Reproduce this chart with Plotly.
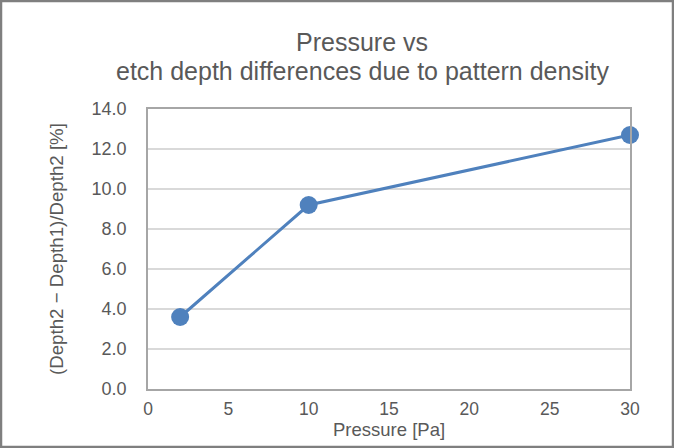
import plotly.graph_objects as go

pressure = [2, 10, 30]
depth_diff = [3.6, 9.2, 12.7]
y_ticks = [0, 2, 4, 6, 8, 10, 12, 14]
x_ticks = [0, 5, 10, 15, 20, 25, 30]
title_lines = ["Pressure vs", "etch depth differences due to pattern density"]
x_title = "Pressure [Pa]"
y_title = "(Depth2 − Depth1)/Depth2 [%]"

W, H = 674, 448
L, R, T, B = 148, 44, 109, 59
pw, ph = W - L - R, H - T - B

text_col = "#595959"
font = "Liberation Sans, Arial, sans-serif"

fig = go.Figure()
fig.add_trace(go.Scatter(
    x=pressure, y=depth_diff, mode="lines+markers",
    line=dict(color="#4F81BD", width=3),
    marker=dict(color="#4F81BD", size=18),
    cliponaxis=False, showlegend=False,
))

fig.update_layout(
    width=W, height=H,
    margin=dict(l=L, r=R, t=T, b=B, pad=0),
    paper_bgcolor="white", plot_bgcolor="white",
    font=dict(family=font, color=text_col, size=18),
    xaxis=dict(
        range=[0, 30], tickvals=x_ticks, showgrid=False, zeroline=False,
        showline=True, linecolor="#A6A6A6", linewidth=1.5, mirror=True,
        ticks="outside", ticklen=3, tickcolor="white",
        tickfont=dict(size=17.5, color=text_col),
    ),
    yaxis=dict(
        range=[0, 14], tickvals=y_ticks, tickformat=".1f",
        showgrid=True, gridcolor="#D9D9D9", gridwidth=1.5, zeroline=False,
        showline=True, linecolor="#A6A6A6", linewidth=1.5, mirror=True,
        ticks="outside", ticklen=16, tickcolor="white",
        tickfont=dict(size=18, color=text_col),
    ),
)

# title lines
for txt, yc in zip(title_lines, [42, 71]):
    fig.add_annotation(
        text=txt, xref="paper", yref="paper",
        x=(362 - L) / pw, y=(H - B - yc) / ph,
        xanchor="center", yanchor="middle", showarrow=False,
        font=dict(size=25, color=text_col, family=font),
    )

# axis titles
fig.add_annotation(
    text=x_title, xref="paper", yref="paper",
    x=(389 - L) / pw, y=(H - B - 429) / ph,
    xanchor="center", yanchor="middle", showarrow=False,
    font=dict(size=18.5, color=text_col, family=font),
)
fig.add_annotation(
    text=y_title, xref="paper", yref="paper",
    x=(56 - L) / pw, y=0.5, textangle=-90,
    xanchor="center", yanchor="middle", showarrow=False,
    font=dict(size=18.7, color=text_col, family=font),
)

# outer chart border
fig.add_shape(
    type="rect", xref="paper", yref="paper",
    x0=-L / pw + 1.0 / pw, x1=1 + (R - 1.0) / pw,
    y0=-B / ph + 1.0 / ph, y1=1 + (T - 1.0) / ph,
    line=dict(color="#7F7F7F", width=2.5), fillcolor="rgba(0,0,0,0)",
    layer="below",
)

fig.write_html(
    "out.html",
    config={"displayModeBar": False},
    post_script="document.body.style.margin='0';document.body.style.overflow='hidden';",
)
